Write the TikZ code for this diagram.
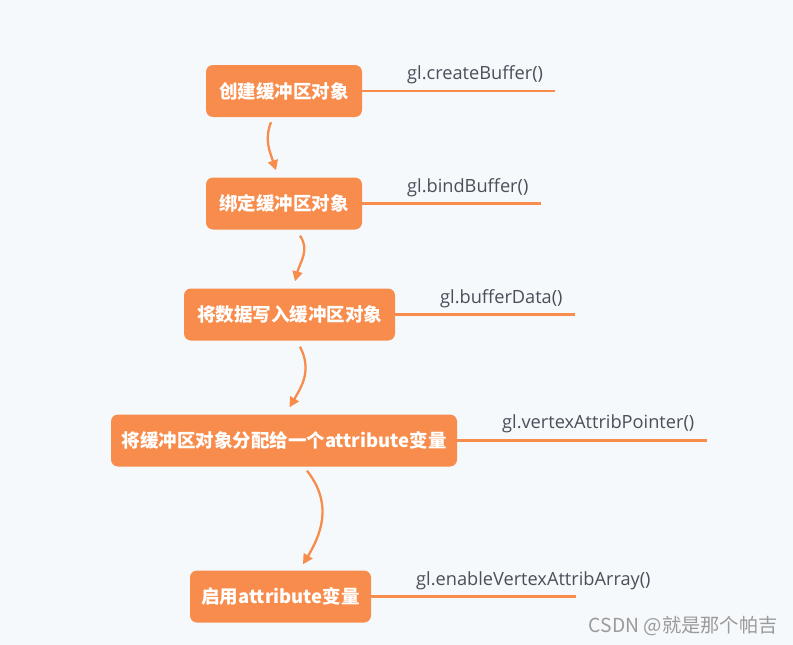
\documentclass[tikz,border=0pt]{standalone}
\usepackage{fontspec}
\setmainfont{Open Sans}
\newfontfamily\cjk{Noto Sans CJK SC}
\usetikzlibrary{arrows.meta}
\definecolor{bg}{HTML}{F5F9FC}
\definecolor{boxc}{HTML}{F78C4C}
\definecolor{lblc}{HTML}{4A4F5A}
\definecolor{wm}{HTML}{9A9A9A}
\tikzset{
  stepbox/.style={fill=boxc, rounded corners=7pt, text=white, inner sep=0pt,
    minimum height=52pt, font=\cjk\bfseries\fontsize{18.5}{22}\selectfont},
  conn/.style={draw=boxc, line width=2.3pt},
  arr/.style={draw=boxc, line width=2.3pt, -{Triangle[length=10pt,width=10pt]}},
  lbl/.style={text=lblc, font=\fontsize{18.2}{21}\selectfont, inner sep=0pt, anchor=base west}
}
\begin{document}
\begin{tikzpicture}[x=1pt,y=-1pt]
\useasboundingbox (0,0) rectangle (793,645);
\fill[bg] (0,0) rectangle (793,645);

\node[stepbox, minimum width=156pt] (b1) at (284,91) {创建缓冲区对象};
\node[stepbox, minimum width=156pt] (b2) at (284,203.5) {绑定缓冲区对象};
\node[stepbox, minimum width=211pt] (b3) at (289.5,314.5) {将数据写入缓冲区对象};
\node[stepbox, minimum width=346pt] (b4) at (284,440.5) {将缓冲区对象分配给一个attribute变量};
\node[stepbox, minimum width=181pt] (b5) at (280.5,596.5) {启用attribute变量};

\coordinate (e1) at (555,91);
\coordinate (e2) at (541,203.5);
\coordinate (e3) at (575,314.5);
\coordinate (e4) at (707,440.5);
\coordinate (e5) at (576,596.5);

\draw[conn] (b1.east) -- (e1);
\draw[conn] (b2.east) -- (e2);
\draw[conn] (b3.east) -- (e3);
\draw[conn] (b4.east) -- (e4);
\draw[conn] (b5.east) -- (e5);

\node[lbl] (l1) at (407,79.5) {gl.createBuffer()};
\node[lbl] (l2) at (407,192) {gl.bindBuffer()};
\node[lbl] (l3) at (440,303) {gl.bufferData()};
\node[lbl] (l4) at (502,428.5) {gl.vertexAttribPointer()};
\node[lbl] (l5) at (416,585) {gl.enableVertexAttribArray()};

\draw[arr] ([xshift=-13pt,yshift=-5pt]b1.south) .. controls (264,140) and (270,152) .. ([xshift=-8pt,yshift=7pt]b2.north);
\draw[arr] ([xshift=16pt,yshift=-6pt]b2.south) .. controls (310,250) and (300,262) .. ([xshift=5.5pt,yshift=7pt]b3.north);
\draw[arr] ([xshift=10.5pt,yshift=-6pt]b3.south) .. controls (312,370) and (302,386) .. ([xshift=5.5pt,yshift=7pt]b4.north);
\draw[arr] ([xshift=23pt,yshift=-4pt]b4.south) .. controls (330,500) and (325,528) .. ([xshift=22.5pt,yshift=6pt]b5.north);

\node[text=wm, font=\cjk\fontsize{19.3}{22}\selectfont, anchor=base east, inner sep=0pt] (wmk) at (778,632) {CSDN @就是那个帕吉};
\end{tikzpicture}
\end{document}
